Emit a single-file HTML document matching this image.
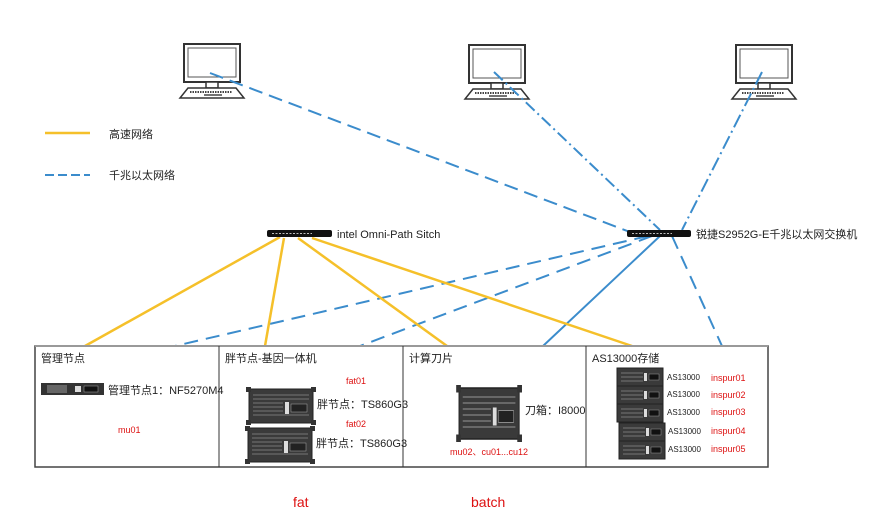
<!DOCTYPE html>
<html><head><meta charset="utf-8"><style>
body{margin:0;background:#fff;}
svg{display:block;font-family:"Liberation Sans","Noto Sans CJK SC",sans-serif;}
</style></head><body>
<svg width="896" height="523" viewBox="0 0 896 523" xmlns="http://www.w3.org/2000/svg">
<defs>
<g id="pc">
<rect x="0" y="0" width="56" height="38" fill="#fff" stroke="#333" stroke-width="2"/>
<rect x="4" y="4" width="48" height="29" fill="#fff" stroke="#555" stroke-width="1"/>
<rect x="22" y="38" width="12" height="6" fill="#fff" stroke="#333" stroke-width="1.5"/>
<path d="M4 44 H52 L60 54 H-4 Z" fill="#fff" stroke="#333" stroke-width="1.5"/>
<line x1="6" y1="48" x2="48" y2="48" stroke="#444" stroke-width="2" stroke-dasharray="1.5 1"/>
<line x1="20" y1="51" x2="38" y2="51" stroke="#444" stroke-width="1.5"/>
</g>
<g id="srv">
<rect x="0" y="0" width="46" height="18" fill="#3a3a3a" stroke="#222"/>
<line x1="4" y1="5" x2="26" y2="5" stroke="#777"/><line x1="4" y1="9" x2="26" y2="9" stroke="#777"/><line x1="4" y1="13" x2="26" y2="13" stroke="#777"/>
<rect x="27" y="5" width="3" height="8" fill="#ddd"/>
<rect x="32" y="6" width="10" height="6" fill="#111" stroke="#999" stroke-width=".5"/>
</g>
<g id="big">
<rect x="0" y="0" width="64" height="34" fill="#3a3a3a" stroke="#222"/>
<rect x="-3" y="-2" width="5" height="5" fill="#333"/><rect x="62" y="-2" width="5" height="5" fill="#333"/>
<rect x="-3" y="31" width="5" height="5" fill="#333"/><rect x="62" y="31" width="5" height="5" fill="#333"/>
<g stroke="#777"><line x1="4" y1="6" x2="60" y2="6"/><line x1="4" y1="10" x2="60" y2="10"/><line x1="4" y1="14" x2="34" y2="14"/><line x1="4" y1="18" x2="34" y2="18"/><line x1="4" y1="22" x2="34" y2="22"/><line x1="4" y1="26" x2="60" y2="26"/></g>
<rect x="36" y="13" width="4" height="12" fill="#ddd"/>
<rect x="42" y="15" width="16" height="8" fill="#222" stroke="#aaa" stroke-width=".5"/>
</g>
</defs>

<!-- PCs -->
<use href="#pc" x="184" y="44"/>
<use href="#pc" x="469" y="45"/>
<use href="#pc" x="736" y="45"/>

<!-- legend -->
<line x1="45" y1="133" x2="90" y2="133" stroke="#f5c02a" stroke-width="2.5"/>
<text x="109" y="138" font-size="11" fill="#222">高速网络</text>
<line x1="45" y1="175" x2="90" y2="175" stroke="#3b8ccc" stroke-width="2" stroke-dasharray="9 4"/>
<text x="109" y="179" font-size="11" fill="#222">千兆以太网络</text>

<!-- blue lines -->
<g stroke="#3b8ccc" stroke-width="2" fill="none">
<line x1="210" y1="73" x2="630" y2="232" stroke-dasharray="14 7"/>
<line x1="494" y1="72" x2="660" y2="230" stroke-dasharray="12 4 2 4"/>
<line x1="762" y1="72" x2="682" y2="230" stroke-dasharray="14 4 2 4"/>
<line x1="648" y1="236" x2="175" y2="346" stroke-dasharray="14 8"/>
<line x1="652" y1="236" x2="360" y2="346" stroke-dasharray="14 8"/>
<line x1="660" y1="236" x2="543" y2="346"/>
<line x1="672" y1="236" x2="722" y2="346" stroke-dasharray="14 8"/>
</g>
<!-- yellow lines -->
<g stroke="#f5c02a" stroke-width="2.5" fill="none">
<line x1="280" y1="237" x2="85" y2="346"/>
<line x1="284" y1="238" x2="265" y2="346"/>
<line x1="298" y1="238" x2="447" y2="346"/>
<line x1="312" y1="238" x2="632" y2="346"/>
</g>

<!-- switches -->
<rect x="267" y="230" width="65" height="7" rx="2" fill="#111"/>
<line x1="272" y1="233.5" x2="312" y2="233.5" stroke="#bbb" stroke-width="1" stroke-dasharray="2 1.5"/>
<text x="337" y="238" font-size="11" fill="#222">intel Omni-Path Sitch</text>
<rect x="627" y="230" width="64" height="7" rx="2" fill="#111"/>
<line x1="632" y1="233.5" x2="672" y2="233.5" stroke="#bbb" stroke-width="1" stroke-dasharray="2 1.5"/>
<text x="696" y="238" font-size="11" fill="#222">锐捷S2952G-E千兆以太网交换机</text>

<!-- box -->
<rect x="35" y="346" width="733" height="121" fill="none" stroke="#444" stroke-width="1.5"/>
<line x1="35" y1="346" x2="768" y2="346" stroke="#999" stroke-width="2"/>
<line x1="219" y1="346" x2="219" y2="467" stroke="#333"/>
<line x1="403" y1="346" x2="403" y2="467" stroke="#333"/>
<line x1="586" y1="346" x2="586" y2="467" stroke="#333"/>

<g font-size="11" fill="#222">
<text x="41" y="362">管理节点</text>
<text x="225" y="362">胖节点-基因一体机</text>
<text x="409" y="362">计算刀片</text>
<text x="592" y="362">AS13000存储</text>
<text x="108" y="394">管理节点1：NF5270M4</text>
<text x="317" y="408">胖节点：TS860G3</text>
<text x="316" y="447">胖节点：TS860G3</text>
<text x="525" y="414">刀箱：I8000</text>
</g>
<g font-size="8" fill="#222">
<text x="667" y="380">AS13000</text>
<text x="667" y="397">AS13000</text>
<text x="667" y="415">AS13000</text>
<text x="668" y="434">AS13000</text>
<text x="668" y="452">AS13000</text>
</g>
<g font-size="9" fill="#d11">
<text x="118" y="433">mu01</text>
<text x="346" y="384">fat01</text>
<text x="346" y="427">fat02</text>
<text x="450" y="455">mu02、cu01...cu12</text>
<text x="711" y="381">inspur01</text>
<text x="711" y="398">inspur02</text>
<text x="711" y="415">inspur03</text>
<text x="711" y="434">inspur04</text>
<text x="711" y="452">inspur05</text>
</g>
<text x="293" y="507" font-size="14" fill="#d11">fat</text>
<text x="471" y="507" font-size="14" fill="#d11">batch</text>

<!-- devices -->
<rect x="41" y="383" width="63" height="12" fill="#333"/>
<rect x="47" y="385" width="20" height="8" fill="#666"/><rect x="75" y="386" width="6" height="6" fill="#ddd"/><rect x="84" y="386" width="14" height="6" fill="#111" stroke="#aaa" stroke-width=".5"/>
<use href="#big" x="249" y="389"/>
<use href="#big" x="248" y="428"/>
<use href="#big" x="459" y="388" transform="translate(459 388) scale(0.94 1.5) translate(-459 -388)"/>
<use href="#srv" x="617" y="368"/>
<use href="#srv" x="617" y="386"/>
<use href="#srv" x="617" y="404"/>
<use href="#srv" x="619" y="423"/>
<use href="#srv" x="619" y="441"/>
</svg>
</body></html>
